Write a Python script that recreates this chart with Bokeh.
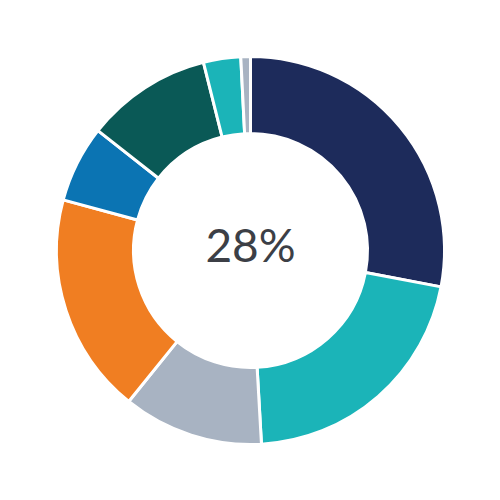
import numpy as np
from bokeh.plotting import figure
from bokeh.models import ColumnDataSource, Range1d
from bokeh.core.properties import value
from bokeh.embed import file_html
from bokeh.resources import INLINE

categories = ["A", "B", "C", "D", "E", "F", "G", "H"]
shares = [28.0, 21.1, 11.7, 18.4, 6.4, 10.5, 3.1, 0.8]
colors = ["#1d2b5b", "#1bb4b8", "#a8b3c2", "#f07e22", "#0b74b3", "#0a5956", "#1bb4b8", "#a8b3c2"]
center_label = "28%"

vals = np.array(shares)
frac = vals / vals.sum()
cum_end = np.cumsum(frac) * 2 * np.pi
cum_start = cum_end - frac * 2 * np.pi
start = np.pi / 2 - cum_start
end = np.pi / 2 - cum_end

src = ColumnDataSource(dict(cat=categories, start=start, end=end, color=colors))

p = figure(width=484, height=484, output_backend="svg", toolbar_location=None,
           x_range=Range1d(-250, 234), y_range=Range1d(-234, 250), min_border=0)
p.annular_wedge(x=0, y=0, inner_radius=117, outer_radius=194,
                start_angle="start", end_angle="end", direction="clock",
                fill_color="color", line_color="white", line_width=3, source=src)
p.text(x=[0], y=[6], text=[center_label], text_align="center", text_baseline="middle",
       text_font=value("Lato"), text_font_size="46px", text_color="#3c3f46")
p.axis.visible = False
p.grid.visible = False
p.outline_line_color = None
p.background_fill_color = "white"
p.border_fill_color = "white"

open("out.html", "w").write(file_html(p, INLINE))
